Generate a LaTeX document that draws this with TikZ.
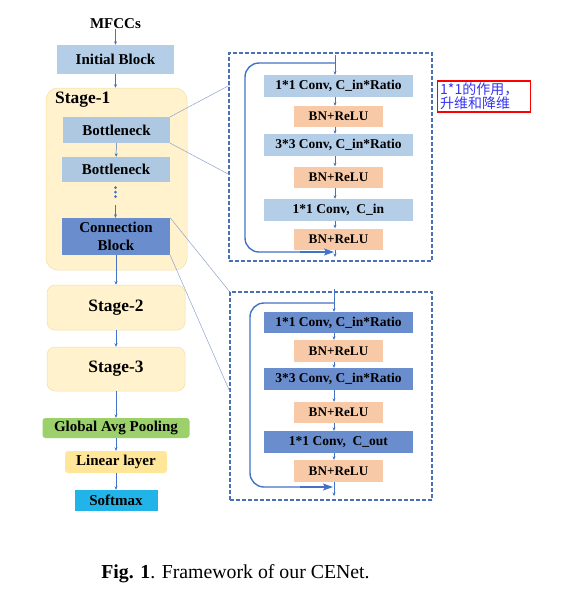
\documentclass[tikz,border=0pt]{standalone}
\usepackage{fontspec}
\setmainfont{Liberation Serif}
\newfontfamily\cjkfont{Noto Sans CJK SC}
\usetikzlibrary{arrows.meta,calc}
\definecolor{lblue}{HTML}{B4CEE8}
\definecolor{lblueS}{HTML}{ADC8E0}
\definecolor{dblue}{HTML}{6A8DCD}
\definecolor{peach}{HTML}{F8C9A6}
\definecolor{stagef}{HTML}{FFF2CC}
\definecolor{stagel}{HTML}{F3DFA6}
\definecolor{gapg}{HTML}{9BD06B}
\definecolor{liny}{HTML}{FFE699}
\definecolor{softc}{HTML}{22B4E9}
\definecolor{arrc}{HTML}{4472C4}
\definecolor{dashc}{HTML}{4A6FB5}
\definecolor{conc}{HTML}{8EA2CC}
\definecolor{cjkblue}{HTML}{3535F0}
\tikzset{
  txt/.style={font=\bfseries\fontsize{15}{16}\selectfont, inner sep=0pt, align=center},
  blk/.style={txt, minimum width=108pt, minimum height=26pt},
  stagebox/.style={txt, font=\bfseries\fontsize{17.4}{19}\selectfont, fill=stagef, draw=stagel, line width=0.5pt, rounded corners=8pt, minimum width=138pt, minimum height=44pt},
  conv/.style={font=\bfseries\fontsize{13.5}{15}\selectfont, inner sep=0pt, minimum width=149pt, minimum height=22pt},
  bnr/.style={font=\bfseries\fontsize{13.2}{15}\selectfont, inner sep=0pt, fill=peach, minimum width=89pt, minimum height=21pt},
  arr/.style={draw=arrc, line width=0.5pt, -{Stealth[length=3.5pt,width=3pt]}},
  skipline/.style={draw=arrc, line width=1.4pt, rounded corners=14pt},
  skiptip/.style={draw=arrc, line width=1.4pt, -{Stealth[length=10pt,width=7pt,inset=2pt]}},
  dbox/.style={draw=dashc, line width=1.2pt, dash pattern=on 4pt off 2pt},
  con/.style={draw=conc, line width=0.5pt},
}
\begin{document}
\begin{tikzpicture}[x=1pt,y=-1pt]
\useasboundingbox (0,0) rectangle (567,600);

% left column
\node[txt] (mfcc) at (115.5,24) {MFCCs};
\node[blk, fill=lblue, minimum width=117pt, minimum height=29pt] (init) at (115.5,59.5) {Initial Block};
\node[fill=stagef, draw=stagel, line width=0.5pt, rounded corners=12pt, minimum width=141pt, minimum height=182pt, inner sep=0pt] (st1) at (116.5,179) {};
\node[txt, font=\bfseries\fontsize{17.4}{19}\selectfont, anchor=west] (st1lab) at (55,100) {Stage-1};
\node[blk, fill=lblueS, minimum width=107pt] (bn1) at (116.5,130) {Bottleneck};
\node[blk, fill=lblueS, minimum height=25pt] (bn2) at (116,169.5) {Bottleneck};
\node[inner sep=0pt, minimum width=3pt, minimum height=12pt] (dots) at (115.5,192) {};
\foreach \yy in {187.5,192,196.5} \fill[arrc] (115.5,\yy) circle (1.5pt);
\coordinate (dotsend) at (115.5,205);
\node[blk, fill=dblue, minimum height=37pt, font=\bfseries\fontsize{15}{18}\selectfont] (conn) at (116,236.5) {Connection\\Block};
\node[stagebox, minimum height=45pt] (st2) at (116,307.5) {Stage-2};
\node[stagebox] (st3) at (116,369) {Stage-3};
\node[blk, fill=gapg, rounded corners=3pt, minimum width=147pt, minimum height=20pt] (gap) at (116,428) {Global Avg Pooling};
\node[blk, fill=liny, rounded corners=3pt, minimum width=102pt, minimum height=22pt] (lin) at (116,462) {Linear layer};
\node[blk, fill=softc, minimum width=83pt, minimum height=21pt] (soft) at (116,500.5) {Softmax};

\draw[arr] (mfcc) -- (init);
\draw[arr] (init) -- (init |- st1.north);
\draw[arr] (bn1) -- (bn2);
\draw[arr] (dotsend) -- (conn.north -| dotsend);
\draw[arr] (conn) -- (st2);
\draw[arr] (st2) -- (st3);
\draw[arr] (st3) -- (gap);
\draw[arr] (gap) -- (lin);
\draw[arr] (lin) -- (soft);

% top dashed box
\node[dbox, minimum width=203pt, minimum height=208pt, inner sep=0pt] (tb) at (330.5,157) {};
\node[conv, fill=lblue] (c1) at (338.5,86) {1*1 Conv, C\_in*Ratio};
\node[bnr] (b1) at (338.5,116.5) {BN+ReLU};
\node[conv, fill=lblue] (c2) at (338.5,145) {3*3 Conv, C\_in*Ratio};
\node[bnr] (b2) at (338.5,177) {BN+ReLU};
\node[conv, fill=lblue] (c3) at (338.5,210) {1*1 Conv,\ \ C\_in};
\node[bnr] (b3) at (338.5,239) {BN+ReLU};
\coordinate (tin) at (335,55);
\coordinate (ts) at (335,63);
\coordinate (tsl) at (245,63);
\coordinate (tsb) at (245,252);
\coordinate (tsm) at (300,252);
\coordinate (tse) at (334,252);
\coordinate (tout) at (335,257);
\draw[arr] (tin) -- (c1.north -| tin);
\draw[arr] (c1.south -| tin) -- (b1.north -| tin);
\draw[arr] (b1.south -| tin) -- (c2.north -| tin);
\draw[arr] (c2.south -| tin) -- (b2.north -| tin);
\draw[arr] (b2.south -| tin) -- (c3.north -| tin);
\draw[arr] (c3.south -| tin) -- (b3.north -| tin);
\draw[arr] (b3.south -| tin) -- (tout);
\draw[skipline] (ts) -- (tsl) -- (tsb) -- (tsm);
\draw[skiptip] (tsm) -- (tse);

% bottom dashed box
\node[dbox, minimum width=202pt, minimum height=208pt, inner sep=0pt] (bb) at (331,396) {};
\node[conv, fill=dblue, minimum height=21pt] (d1) at (338.5,322.5) {1*1 Conv, C\_in*Ratio};
\node[bnr, minimum height=22pt] (e1) at (338.5,351) {BN+ReLU};
\node[conv, fill=dblue] (d2) at (338.5,379) {3*3 Conv, C\_in*Ratio};
\node[bnr] (e2) at (338.5,412.5) {BN+ReLU};
\node[conv, fill=dblue] (d3) at (338.5,442) {1*1 Conv,\ \ C\_out};
\node[bnr, minimum height=22pt] (e3) at (338.5,471) {BN+ReLU};
\coordinate (bin) at (334,289);
\coordinate (bs) at (334,303);
\coordinate (bsl) at (250,303);
\coordinate (bsb) at (250,487);
\coordinate (bsm) at (300,487);
\coordinate (bse) at (333,487);
\coordinate (bout) at (334,496);
\draw[arr] (bin) -- (d1.north -| bin);
\draw[arr] (d1.south -| bin) -- (e1.north -| bin);
\draw[arr] (e1.south -| bin) -- (d2.north -| bin);
\draw[arr] (d2.south -| bin) -- (e2.north -| bin);
\draw[arr] (e2.south -| bin) -- (d3.north -| bin);
\draw[arr] (d3.south -| bin) -- (e3.north -| bin);
\draw[arr] (e3.south -| bin) -- (bout);
\draw[skipline] (bs) -- (bsl) -- (bsb) -- (bsm);
\draw[skiptip] (bsm) -- (bse);

% connectors
\coordinate (t1) at (230,85);
\coordinate (t2) at (230,175);
\coordinate (t3) at (230,392);
\draw[con] (bn1.north east) -- (t1);
\draw[con] (bn1.south east) -- (t2);
\draw[con] (conn.north east) -- (bb.north west);
\draw[con] (conn.south east) -- (t3);

% red note
\node[draw=red, line width=1.5pt, minimum width=93pt, minimum height=31pt, inner sep=0pt] (note) at (484,96.5) {};
\node[anchor=north west, inner sep=0pt, align=left, text=cjkblue, font=\cjkfont\fontsize{14}{13}\selectfont] (notetxt) at (440,82.5) {1*1的作用，\\升维和降维};

% caption
\node[inner sep=0pt, font=\fontsize{19.8}{22}\selectfont] (cap) at (235.5,574) {\textbf{Fig. 1}. Framework of our CENet.};
\end{tikzpicture}
\end{document}
